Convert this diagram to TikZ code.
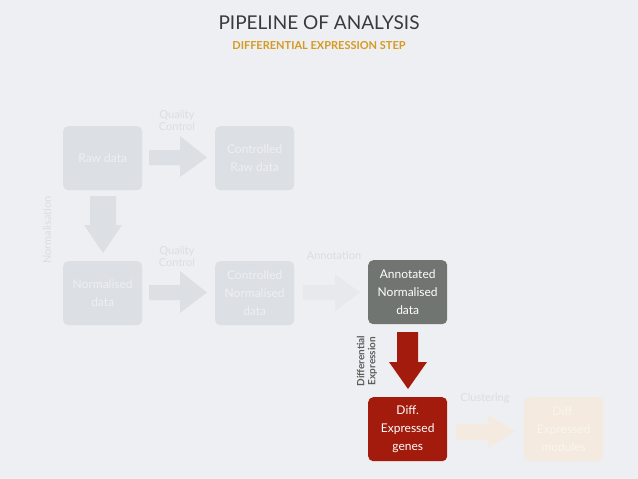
\documentclass[tikz,border=0pt]{standalone}
\usepackage{fontspec}
\setmainfont{Lato}
\definecolor{bg}{HTML}{EEEFF2}
\definecolor{fbox}{HTML}{DCDFE3}
\definecolor{ftxt}{HTML}{EEF0F2}
\definecolor{flab}{HTML}{DADDE1}
\definecolor{gbox}{HTML}{707572}
\definecolor{rbox}{HTML}{A21B0C}
\definecolor{obox}{HTML}{F4EADF}
\definecolor{otxt}{HTML}{FAF5EF}
\definecolor{sub}{HTML}{D49A22}
\definecolor{ttl}{HTML}{3A3A3A}
\begin{document}
\begin{tikzpicture}[x=1pt,y=-1pt,
 box/.style={rounded corners=5pt,minimum width=79pt,minimum height=64pt,anchor=north west,align=center,font=\fontsize{12}{18}\selectfont,inner sep=0pt},
 fb/.style={box,fill=fbox,text=ftxt},
 lab/.style={text=flab,font=\fontsize{11}{12}\selectfont,align=center,inner sep=0pt}]
\fill[bg] (0,0) rectangle (638,479);
\useasboundingbox (0,0) rectangle (638,479);
\node[text=ttl] (t) at (319,23) {\fontsize{19}{20}\selectfont PIPELINE OF ANALYSIS};
\node[text=sub] (s) at (319,46) {\fontsize{11}{12}\selectfont\bfseries DIFFERENTIAL EXPRESSION STEP};
\node[fb] (raw) at (63,126) {Raw data};
\node[fb] (craw) at (215,126) {Controlled\\Raw data};
\node[fb] (norm) at (63,261) {Normalised\\data};
\node[fb] (cnorm) at (215,261) {Controlled\\Normalised\\data};
\node[box,fill=gbox,text=white] (ann) at (368,260) {Annotated\\Normalised\\data};
\node[box,fill=rbox,text=white] (deg) at (368,397) {Diff.\\Expressed\\genes};
\node[box,fill=obox,text=otxt] (dem) at (524,397) {Diff.\\Expressed\\modules};
% block arrows
\fill[fbox] (149,150) -- (180,150) -- (180,136) -- (207,157.5) -- (180,177) -- (180,165) -- (149,165) -- cycle;
\fill[fbox] (90,196) -- (116,196) -- (116,225) -- (122,225) -- (103,253) -- (84,225) -- (90,225) -- cycle;
\fill[fbox] (149,285) -- (180,285) -- (180,271) -- (207,292.5) -- (180,313) -- (180,300) -- (149,300) -- cycle;
\fill[ftxt!60!fbox] (303,285) -- (335,285) -- (335,274) -- (360,292.5) -- (335,311) -- (335,300) -- (303,300) -- cycle;
\fill[rbox] (397,332) -- (418,332) -- (418,362) -- (427,362) -- (408,389) -- (389,362) -- (397,362) -- cycle;
\fill[obox] (456,424) -- (488,424) -- (488,415) -- (515,431.5) -- (488,448) -- (488,440) -- (456,440) -- cycle;
\node[lab] (l1) at (177,120) {Quality\\Control};
\node[lab] (l2) at (177,256) {Quality\\Control};
\node[lab,rotate=90] (l3) at (47,230) {Normalisation};
\node[lab] (l4) at (334,256) {Annotation};
\node[lab] (l5) at (485,398) {Clustering};
\node[rotate=90,align=center,font=\fontsize{10}{11}\selectfont\bfseries,text=gbox!80!black,inner sep=0pt] (l6) at (367,361) {Differential\\Expression};
\end{tikzpicture}
\end{document}
